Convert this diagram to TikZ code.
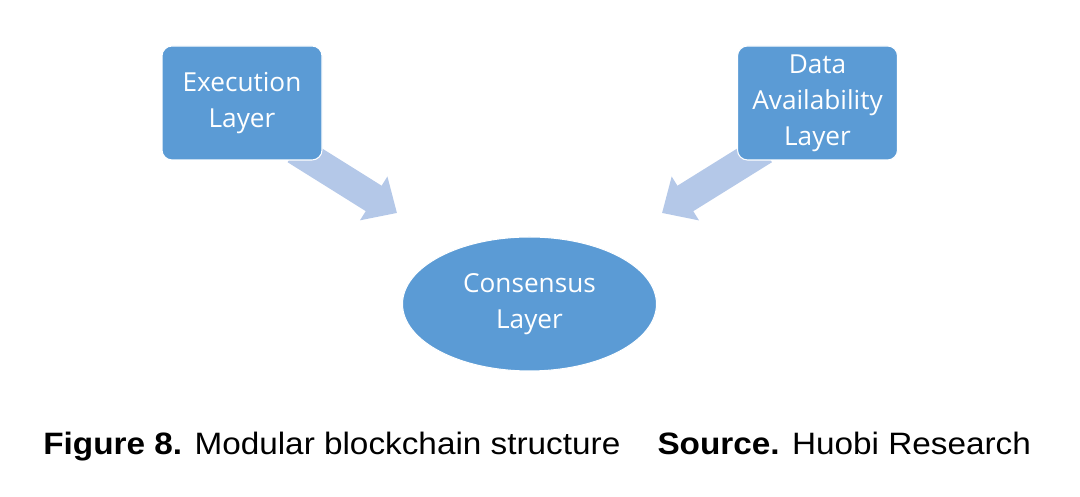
\documentclass[tikz,border=0pt]{standalone}
\usepackage{fontspec}
\setmainfont{Liberation Sans}
\newfontfamily\layerfont{Open Sans}
\usetikzlibrary{arrows.meta,shapes.geometric,backgrounds}
\definecolor{layerblue}{HTML}{5B9BD5}
\definecolor{arrowblue}{HTML}{B4C8E8}
\begin{document}
\begin{tikzpicture}[
	layerbox/.style={fill=layerblue,draw=white,line width=0.6pt,rounded corners=0.2cm,minimum width=3.2cm,minimum height=2.28cm,text=white,align=center,font=\layerfont\fontsize{14.9}{20.5}\selectfont},
	layerellipse/.style={ellipse,fill=layerblue,draw=white,line width=0.6pt,minimum width=5.08cm,minimum height=2.68cm,text=white,align=center,font=\layerfont\fontsize{14.9}{20.5}\selectfont},
	fatarrow/.style={draw=arrowblue,line width=0.6cm,-{Triangle[width=1cm,length=0.55cm,fill=arrowblue]}}]
			\useasboundingbox (0,0) rectangle (21.6,9.94);
			\node[layerbox] (exec) at (4.84,7.88) {Execution\\Layer};
			\node[layerbox] (avail) at (16.35,7.88) {Data\\Availability\\Layer};
			\node[layerellipse] (cons) at (10.59,3.86) {Consensus\\Layer};
			\coordinate (tipL) at (7.94,5.68);
			\coordinate (tipR) at (13.24,5.68);
			\begin{scope}[on background layer]
			\draw[fatarrow] ([shift={(-0.54,0.22)}]exec.south east) -- (tipL);
			\draw[fatarrow] ([shift={(0.54,0.22)}]avail.south west) -- (tipR);
			\end{scope}
			\node[anchor=base west,inner sep=0pt,xscale=1.077,transform shape,font=\fontsize{17.6}{20}\selectfont] (capt) at (0.86,0.84) {\textbf{Figure 8.} Modular blockchain structure\hspace{0.69cm}\textbf{Source.} Huobi Research};
		\end{tikzpicture}
\end{document}
